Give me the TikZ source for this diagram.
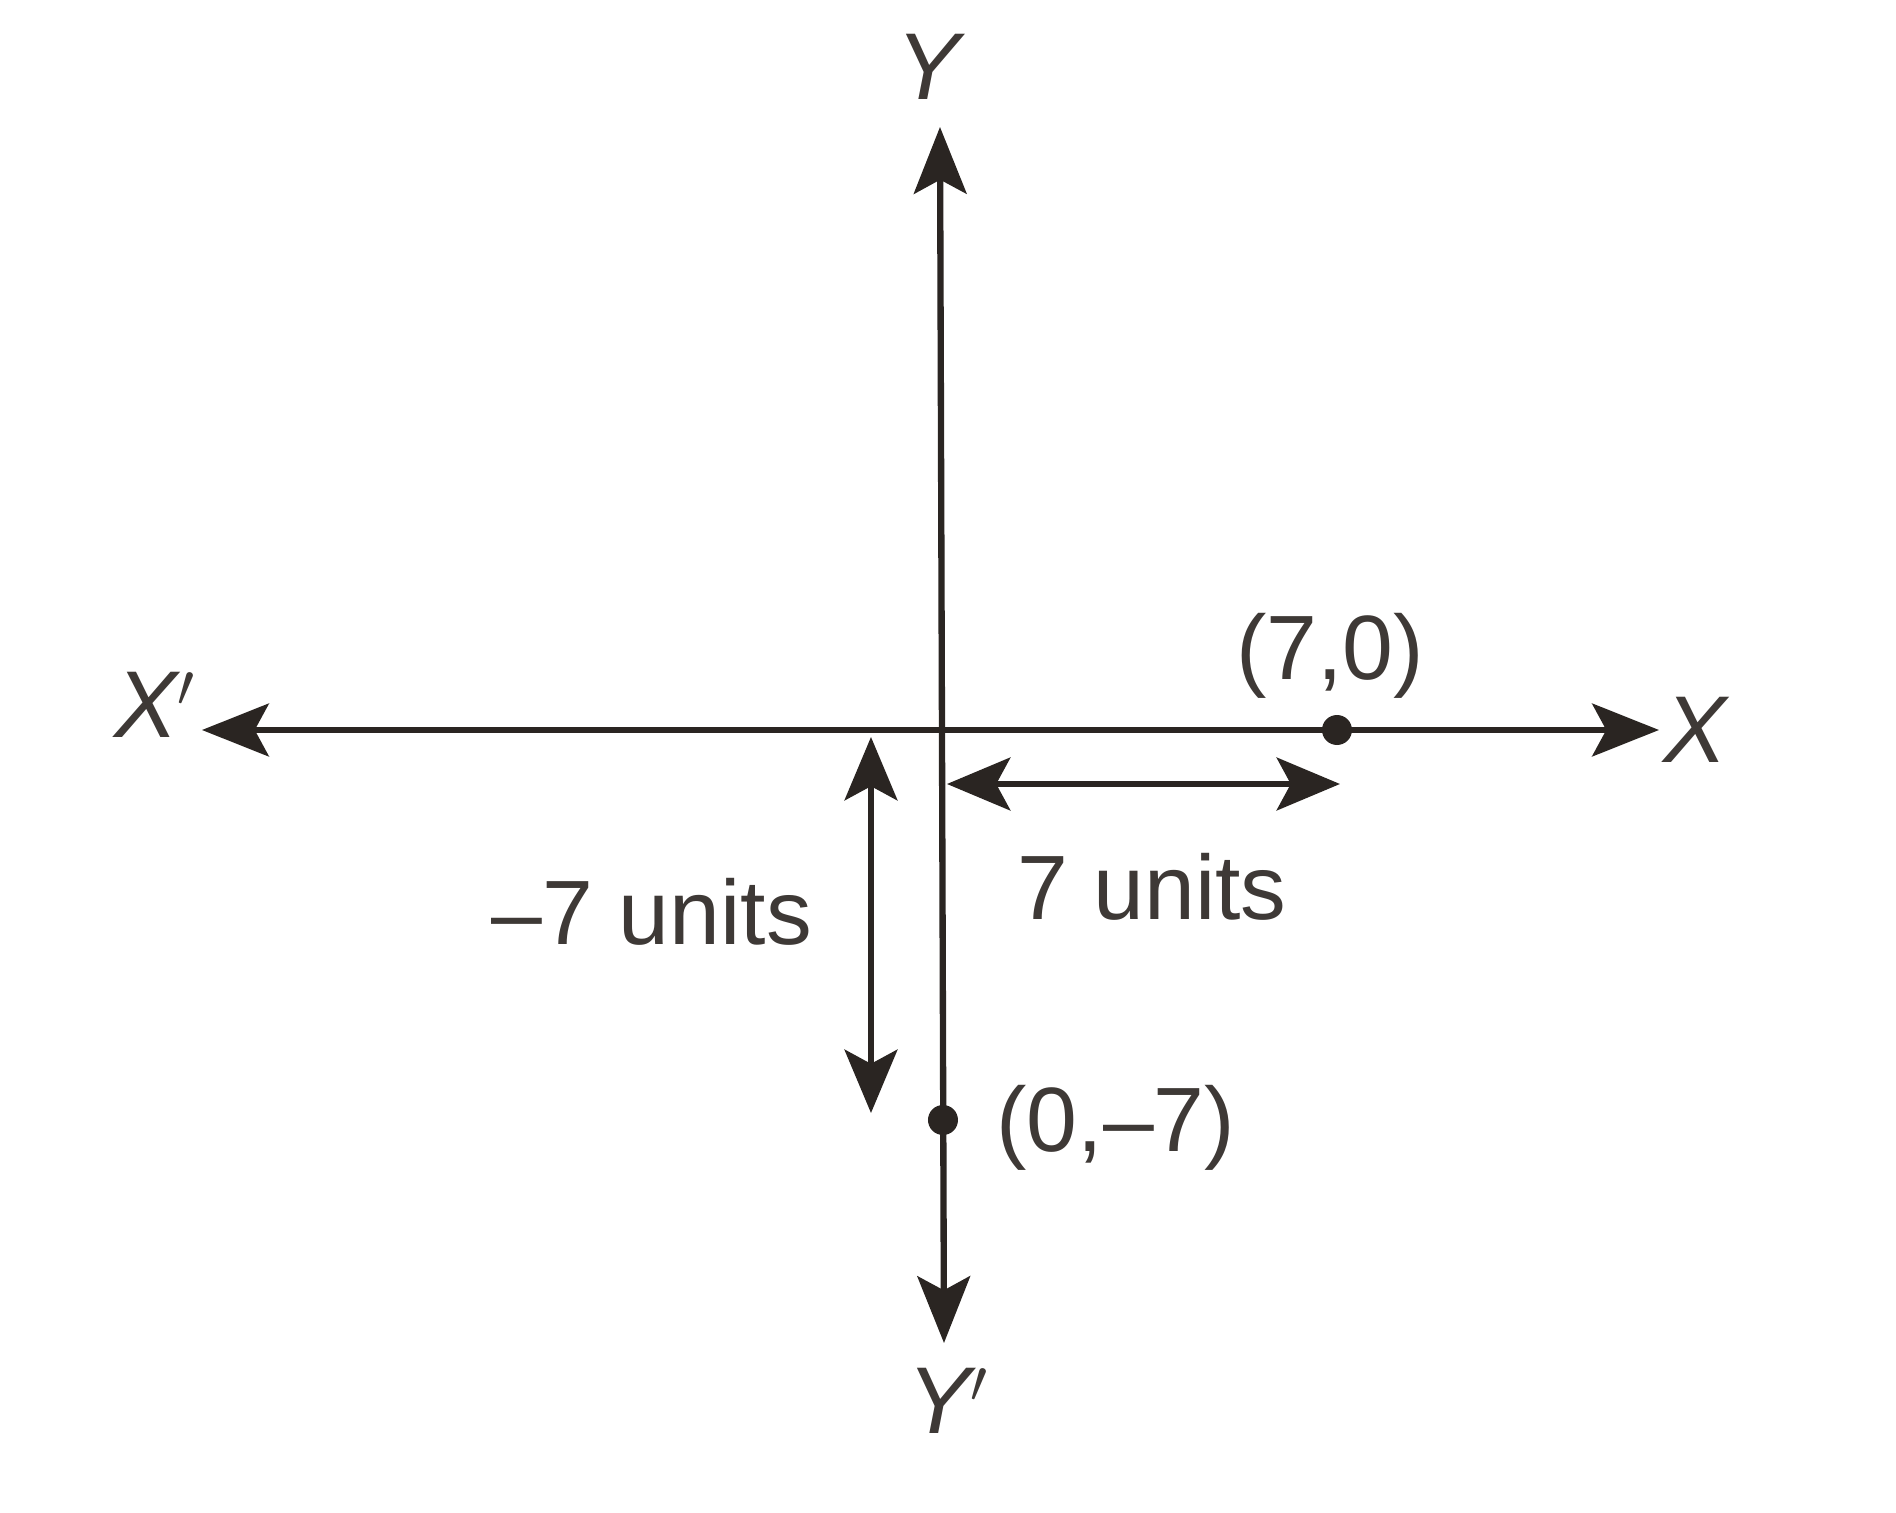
\documentclass[tikz,border=0pt]{standalone}
\usepackage{fontspec}
\setmainfont{Liberation Sans}
\usepackage{tikz}
\usepackage{xcolor}
\usetikzlibrary{arrows.meta}
\definecolor{ink}{HTML}{2A2522}
\definecolor{lettering}{HTML}{3E3936}

\begin{document}
\begin{tikzpicture}
    [
        axis/.style={ink, line width=1.8pt,
            {Stealth[length=19pt, width=15pt, inset=4pt]}-{Stealth[length=19pt, width=15pt, inset=4pt]}},
        span/.style={ink, line width=1.8pt,
            {Stealth[length=18pt, width=15pt, inset=4pt]}-{Stealth[length=18pt, width=15pt, inset=4pt]}},
        axislabel/.style={lettering, font=\fontsize{27}{32}\selectfont\itshape},
        numlabel/.style={lettering, font=\fontsize{26}{31}\selectfont}
    ]
    \useasboundingbox (-9.42,-7.82) rectangle (9.54,7.30);
    % axes
    \coordinate (O) at (0,0);
    \coordinate (Xtip) at (7.17,0);
    \coordinate (Xltip) at (-7.40,0);
    \coordinate (Ytip) at (-0.02,6.03);
    \coordinate (Yltip) at (0.02,-6.13);
    \draw[axis] (Xltip) -- (Xtip);
    \draw[axis] (Yltip) -- (Ytip);
    \node[axislabel] (xlab) at (7.53,0) {X};
    \node[axislabel] (xllab) at (-7.87,0.25) {X$'$};
    \node[axislabel] (ylab) at (-0.14,6.63) {Y};
    \node[axislabel] (yllab) at (0.06,-6.71) {Y$'$};
    % points
    \coordinate (P) at (3.95,0);
    \coordinate (Q) at (0.01,-3.90);
    \fill[ink] (P) circle (0.15);
    \fill[ink] (Q) circle (0.15);
    \node[numlabel] (plab) at (3.88,0.74) {(7,0)};
    \node[numlabel, anchor=west] (qlab) at (0.42,-3.98) {(0,–7)};
    % distances
    \coordinate (h1) at (0.05,-0.54);
    \coordinate (h2) at (3.98,-0.54);
    \coordinate (v1) at (-0.71,-0.07);
    \coordinate (v2) at (-0.71,-3.83);
    \draw[span] (h1) -- (h2);
    \draw[span] (v1) -- (v2);
    \node[numlabel] (hlab) at (2.10,-1.57) {7 units};
    \node[numlabel] (vlab) at (-2.90,-1.82) {–7 units};
\end{tikzpicture}
\end{document}
